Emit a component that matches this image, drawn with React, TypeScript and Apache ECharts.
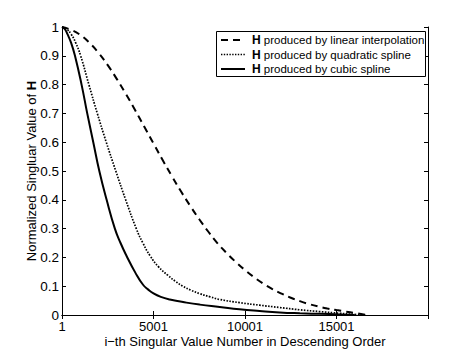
import React, { useEffect, useRef } from "react";
import * as echarts from "echarts";

const xTickLabels = ["1", "5001", "10001", "15001"];

const linearX = [1, 500, 1000, 1500, 2000, 2500, 3000, 3500, 4000, 4500, 5000, 5500, 6000, 6500, 7000, 7500, 8000, 8500, 9000, 9500, 10000, 10500, 11000, 11500, 12000, 12500, 13000, 13500, 14000, 14500, 15000, 15500, 16000, 16641];
const linearY = [1, 0.99, 0.9725, 0.945, 0.91, 0.8675, 0.819, 0.7665, 0.711, 0.6535, 0.5955, 0.538, 0.4825, 0.4295, 0.3795, 0.3325, 0.289, 0.249, 0.215, 0.184, 0.156, 0.131, 0.109, 0.09, 0.074, 0.06, 0.048, 0.038, 0.0295, 0.0225, 0.017, 0.012, 0.007, 0];

const quadX = [1, 250, 500, 750, 1020, 1470, 1930, 2420, 2940, 3480, 4060, 4420, 4820, 5280, 5800, 6200, 6600, 7050, 7530, 8100, 8620, 9700, 10800, 11900, 13000, 14070, 15160, 16000, 16641];
const quadY = [1, 0.993, 0.975, 0.945, 0.9, 0.8, 0.7, 0.6, 0.5, 0.4, 0.3, 0.25, 0.205, 0.167, 0.137, 0.117, 0.1, 0.086, 0.074, 0.063, 0.054, 0.043, 0.034, 0.026, 0.018, 0.012, 0.006, 0.002, 0];

const cubicX = [1, 150, 300, 500, 710, 1070, 1380, 1710, 2040, 2440, 2890, 3200, 3530, 4000, 4430, 4700, 5001, 5400, 5890, 6800, 7530, 8620, 9700, 10800, 11900, 13000, 14070, 15160, 16000, 16641];
const cubicY = [1, 0.993, 0.975, 0.945, 0.9, 0.8, 0.7, 0.6, 0.5, 0.4, 0.3, 0.25, 0.205, 0.148, 0.105, 0.089, 0.075, 0.063, 0.054, 0.043, 0.036, 0.028, 0.02, 0.014, 0.009, 0.006, 0.004, 0.002, 0];

const seriesNames = [
  "H produced by linear interpolation",
  "H produced by quadratic spline",
  "H produced by cubic spline",
];

const FONT = "'Liberation Sans', Arial, Helvetica, sans-serif";

function pairs(xs: number[], ys: number[]) {
  return xs.map((x, i) => [x, ys[i]]);
}

export default function App() {
  const ref = useRef<HTMLDivElement>(null);
  useEffect(() => {
    if (!ref.current) return;
    const chart = echarts.init(ref.current, undefined, { renderer: "svg" });
    const axisCommon = {
      axisLine: { show: true, lineStyle: { color: "#000", width: 1 } },
      axisTick: { show: true, inside: true, length: 4, lineStyle: { color: "#000" } },
      splitLine: { show: false },
    };
    const lineStyles = [
      { width: 2, lineDash: [7, 5] },
      { width: 1.4, lineDash: [1.4, 1.4] },
      { width: 2, lineDash: null },
    ];
    const legendX = 216;
    const legendY = 31;
    const rowY = [40, 54.5, 69];
    const legendGraphics: any[] = [
      {
        type: "rect",
        shape: { x: legendX + 0.5, y: legendY + 0.5, width: 209, height: 45 },
        style: { fill: "#fff", stroke: "#000", lineWidth: 1 },
        z: 100,
      },
    ];
    seriesNames.forEach((name, i) => {
      legendGraphics.push({
        type: "line",
        shape: { x1: legendX + 5, y1: rowY[i], x2: legendX + 29, y2: rowY[i] },
        style: { stroke: "#000", lineWidth: lineStyles[i].width, lineDash: lineStyles[i].lineDash },
        z: 101,
      });
      legendGraphics.push({
        type: "text",
        x: legendX + 36,
        y: rowY[i],
        style: {
          text: "{b|H}{n|" + name.slice(1) + "}",
          verticalAlign: "middle",
          rich: {
            b: { fontWeight: "bold", fontSize: 12, fontFamily: FONT, fill: "#000" },
            n: { fontSize: 11.5, fontFamily: FONT, fill: "#000" },
          },
        },
        z: 101,
      });
    });
    chart.setOption({
      animation: false,
      backgroundColor: "#fff",
      textStyle: { fontFamily: FONT },
      grid: { left: 62, right: 46, top: 27, bottom: 40, containLabel: false },
      graphic: legendGraphics,
      xAxis: [
        {
          type: "value",
          position: "bottom",
          min: 1,
          max: 20001,
          interval: 5000,
          ...axisCommon,
          axisLabel: {
            color: "#000",
            fontSize: 13,
            margin: 5,
            lineHeight: 13,
            fontFamily: FONT,
            formatter: (v: number) => (xTickLabels.includes(String(v)) ? String(v) : ""),
          },
          name: "i\u2212th Singular Value Number in Descending Order",
          nameLocation: "middle",
          nameGap: 20,
          nameMoveOverlap: false,
          nameTextStyle: { color: "#000", fontSize: 13, lineHeight: 13, fontFamily: FONT, verticalAlign: "top" },
        },
        {
          type: "value",
          position: "top",
          min: 1,
          max: 20001,
          interval: 5000,
          ...axisCommon,
          axisLabel: { show: false },
        },
      ],
      yAxis: [
        {
          type: "value",
          position: "left",
          min: 0,
          max: 1,
          interval: 0.1,
          ...axisCommon,
          axisLabel: { color: "#000", fontSize: 13.5, margin: 3, fontFamily: FONT },
          name: "Normalized Singluar Value of {b|H}",
          nameLocation: "middle",
          nameGap: 24,
          nameMoveOverlap: false,
          nameTextStyle: {
            color: "#000",
            fontSize: 13,
            fontFamily: FONT,
            verticalAlign: "bottom",
            rich: { b: { fontWeight: "bold", fontSize: 13, fontFamily: FONT, color: "#000" } },
          },
        },
        {
          type: "value",
          position: "right",
          min: 0,
          max: 1,
          interval: 0.1,
          ...axisCommon,
          axisLabel: { show: false },
        },
      ],
      series: [
        {
          name: seriesNames[0],
          type: "line",
          data: pairs(linearX, linearY),
          showSymbol: false,
          symbol: "none",
          smooth: 0.5,
          lineStyle: { color: "#000", width: 2, type: [7, 5] },
        },
        {
          name: seriesNames[1],
          type: "line",
          data: pairs(quadX, quadY),
          showSymbol: false,
          symbol: "none",
          smooth: 0.5,
          lineStyle: { color: "#000", width: 1.7, type: [1.6, 1.4] },
        },
        {
          name: seriesNames[2],
          type: "line",
          data: pairs(cubicX, cubicY),
          showSymbol: false,
          symbol: "none",
          smooth: 0.5,
          lineStyle: { color: "#000", width: 2, type: "solid" },
        },
      ],
    });
    return () => chart.dispose();
  }, []);
  return (
    <div
      ref={ref}
      style={{ position: "fixed", left: 0, top: 0, width: 474, height: 355, background: "#fff" }}
    />
  );
}
